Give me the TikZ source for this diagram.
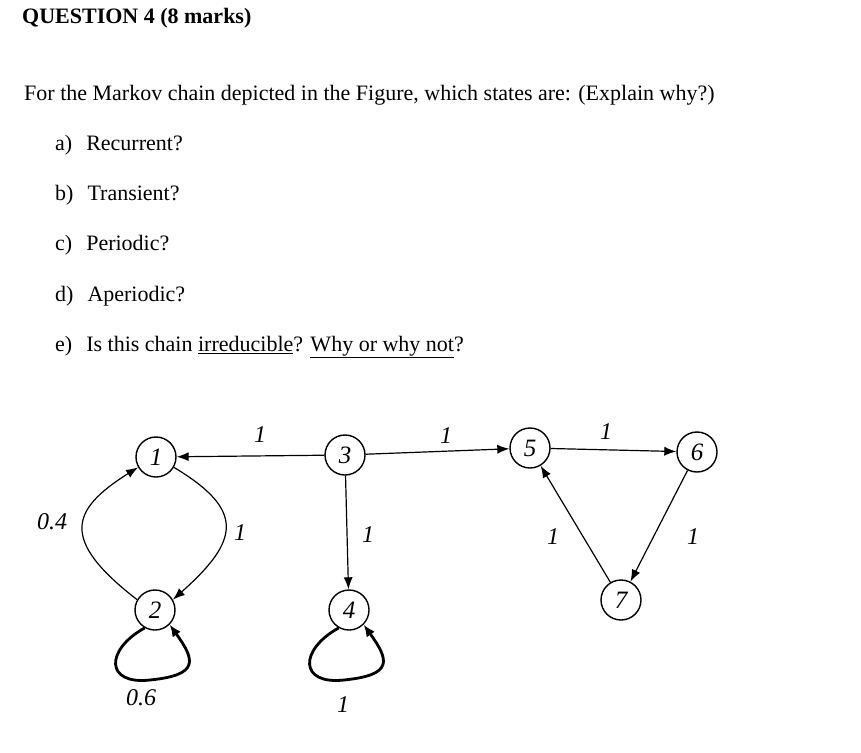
\documentclass[tikz,border=0pt]{standalone}
\usepackage{fontspec}
\setmainfont{Liberation Serif}
\usetikzlibrary{arrows.meta}
\begin{document}
\begin{tikzpicture}[x=1pt,y=-1pt,
  txt/.style={anchor=west,inner sep=0pt,font=\fontsize{22}{26}\selectfont},
  st/.style={circle,draw,line width=1.4pt,minimum size=40pt,inner sep=0pt,font=\fontsize{25}{27}\selectfont\itshape},
  lab/.style={inner sep=0pt,font=\fontsize{24}{26}\selectfont\itshape},
  ed/.style={-{Latex[length=12pt,width=9pt]},line width=1.2pt},
  lp/.style={-{Latex[length=12pt,width=10pt]},line width=2.8pt}]
\useasboundingbox (0,0) rectangle (861,752);
\node[txt,font=\fontsize{22}{26}\selectfont\bfseries] (q) at (22,18) {QUESTION 4 (8 marks)};
\node[txt] (t0) at (24,95) {For the Markov chain depicted in the Figure, which states are: (Explain why?)};
\node[txt] (ta) at (55,145) {a)\hspace{14pt}Recurrent?};
\node[txt] (tb) at (55,195) {b)\hspace{14pt}Transient?};
\node[txt] (tc) at (55,245) {c)\hspace{14pt}Periodic?};
\node[txt] (td) at (55,296) {d)\hspace{14pt}Aperiodic?};
\node[txt] (te) at (55,347) {e)\hspace{14pt}Is this chain \underline{irreducible}? \underline{Why or why not}?};
\node[st] (n1) at (156,457) {1};
\node[st] (n3) at (345,455) {3};
\node[st] (n5) at (530,448) {5};
\node[st] (n6) at (697,452) {6};
\node[st] (n2) at (155,610) {2};
\node[st] (n4) at (349,610) {4};
\node[st] (n7) at (621,600) {7};
\draw[ed] (n3) -- (n1);
\draw[ed] (n3) -- (n5);
\draw[ed] (n5) -- (n6);
\draw[ed] (n3) -- (n4);
\draw[ed] (n6) -- (n7);
\draw[ed] (n7) -- (n5);
\draw[ed] (n2.150) .. controls (60,540) and (70,510) .. (n1.210);
\draw[ed] (n1.-30) .. controls (245,510) and (240,540) .. (n2.30);
\draw[lp] (n2.240) .. controls (105,650) and (105,685) .. (150,680) .. controls (200,675) and (195,660) .. (n2.-45);
\draw[lp] (n4.240) .. controls (299,650) and (299,685) .. (344,680) .. controls (394,675) and (389,660) .. (n4.-45);
\node[lab] (l13) at (260,435) {1};
\node[lab] (l35) at (446,436) {1};
\node[lab] (l56) at (606,432) {1};
\node[lab] (l12) at (240,533) {1};
\node[lab] (l34) at (368,535) {1};
\node[lab] (l75) at (553,537) {1};
\node[lab] (l67) at (693,537) {1};
\node[lab] (l21) at (52,522) {0.4};
\node[lab] (l22) at (141,698) {0.6};
\node[lab] (l44) at (343,705) {1};
\end{tikzpicture}
\end{document}
